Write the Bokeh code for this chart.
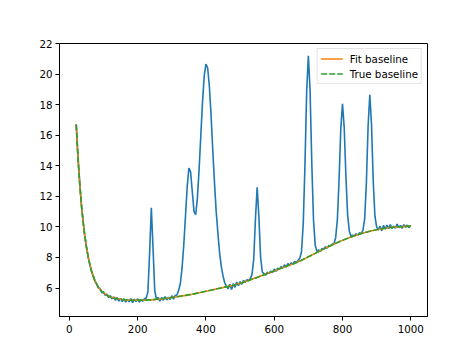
import numpy as np
from bokeh.plotting import figure
from bokeh.models import Range1d, FixedTicker, Legend, LegendItem
from bokeh.embed import file_html
from bokeh.resources import INLINE

# ---- data ----
signal_start = 20
signal_step = 5
signal = [
    16.72, 14.60, 12.95, 11.48, 10.40, 9.41, 8.70, 8.02, 7.55, 7.07,
    6.80, 6.42, 6.28, 6.00, 5.95, 5.70, 5.75, 5.52, 5.60, 5.38,
    5.50, 5.30, 5.42, 5.20, 5.38, 5.15, 5.33, 5.12, 5.30, 5.08,
    5.28, 5.10, 5.31, 5.05, 5.27, 5.12, 5.30, 5.08, 5.25, 5.14,
    5.30, 5.35, 5.75, 8.30, 11.25, 8.60, 5.85, 5.25, 5.40, 5.15,
    5.38, 5.20, 5.45, 5.22, 5.40, 5.25, 5.50, 5.28, 5.52, 5.55,
    5.85, 6.30, 7.30, 8.80, 10.70, 12.60, 13.85, 13.60, 12.30, 11.00,
    10.80, 11.90, 13.80, 16.00, 18.20, 19.90, 20.65, 20.40, 19.20, 17.30,
    15.00, 12.90, 11.00, 9.60, 8.30, 7.40, 6.80, 6.35, 6.10, 5.95,
    6.25, 5.90, 6.30, 6.05, 6.40, 6.15, 6.42, 6.25, 6.50, 6.38,
    6.55, 6.48, 6.62, 6.90, 7.90, 10.50, 12.60, 10.70, 8.05, 7.05,
    6.95, 6.85, 7.05, 6.95, 7.12, 7.00, 7.25, 7.10, 7.30, 7.22,
    7.40, 7.30, 7.52, 7.38, 7.60, 7.50, 7.65, 7.58, 7.75, 7.66,
    7.82, 7.95, 8.40, 10.20, 14.00, 18.85, 21.20, 18.95, 14.20, 10.50,
    8.80, 8.40, 8.50, 8.38, 8.58, 8.55, 8.70, 8.62, 8.78, 8.75,
    8.88, 8.90, 9.30, 10.50, 13.10, 16.40, 18.05, 16.50, 13.30, 10.80,
    9.70, 9.40, 9.45, 9.40, 9.55, 9.48, 9.62, 9.55, 9.80, 10.55,
    12.90, 16.60, 18.65, 16.70, 13.00, 10.70, 10.00, 9.80, 10.05, 9.75,
    10.10, 9.85, 10.12, 9.88, 10.15, 9.90, 10.05, 9.92, 10.18, 9.95,
    10.10, 9.90, 10.15, 9.98, 10.12, 9.96, 10.10,
]

baseline_x = [20, 25, 30, 35, 40, 45, 50, 55, 60, 65, 70, 75, 80, 85, 90, 95, 100,
              110, 120, 130, 140, 150, 160,
              180, 200, 220, 240, 260, 280, 300, 320, 340, 360, 380, 400, 420, 440,
              460, 480, 500, 520, 540, 560, 580, 600, 620, 640, 660, 680, 700, 720,
              740, 760, 780, 800, 820, 840, 860, 880, 900, 920, 940, 960, 980, 1000]
true_baseline = [16.70, 14.62, 12.91, 11.51, 10.37, 9.43, 8.66, 8.04, 7.52, 7.10,
                 6.75, 6.47, 6.24, 6.05, 5.90, 5.78, 5.68,
                 5.53, 5.42, 5.35, 5.30, 5.26, 5.23,
                 5.20, 5.20, 5.21, 5.23, 5.28, 5.33, 5.38, 5.45, 5.52, 5.60, 5.69, 5.79,
                 5.89, 5.99, 6.08, 6.17, 6.30, 6.45, 6.61, 6.78, 6.96, 7.12,
                 7.29, 7.46, 7.63, 7.82, 8.05, 8.27, 8.50, 8.72, 8.93, 9.12,
                 9.30, 9.46, 9.60, 9.72, 9.82, 9.90, 9.96, 10.00, 10.03, 10.05]
fit_baseline = [16.68, 14.60, 12.90, 11.50, 10.37, 9.43, 8.67, 8.05, 7.53, 7.11,
                6.76, 6.48, 6.25, 6.06, 5.91, 5.79, 5.69,
                5.54, 5.43, 5.36, 5.31, 5.27, 5.24,
                5.21, 5.20, 5.21, 5.23, 5.27, 5.32, 5.38, 5.45, 5.52, 5.60, 5.69, 5.79,
                5.89, 5.99, 6.08, 6.18, 6.31, 6.46, 6.62, 6.79, 6.96, 7.12,
                7.29, 7.46, 7.63, 7.82, 8.04, 8.27, 8.50, 8.72, 8.93, 9.12,
                9.30, 9.46, 9.60, 9.72, 9.82, 9.90, 9.96, 10.00, 10.03, 10.05]

x_ticks = [0, 200, 400, 600, 800, 1000]
y_ticks = [6, 8, 10, 12, 14, 16, 18, 20, 22]
legend_labels = ["Fit baseline", "True baseline"]

signal_x = [signal_start + signal_step * i for i in range(len(signal))]

# ---- figure ----
p = figure(width=474, height=355, output_backend="svg", toolbar_location=None,
           x_range=Range1d(-29, 1049), y_range=Range1d(4.14, 22.0))
p.min_border_left = 59
p.min_border_right = 47
p.min_border_top = 43
p.min_border_bottom = 39
p.background_fill_color = "white"
p.border_fill_color = "white"
p.outline_line_color = "black"
p.outline_line_width = 1
p.xgrid.visible = False
p.ygrid.visible = False

for ax in (p.xaxis, p.yaxis):
    ax.axis_line_color = "black"
    ax.axis_line_width = 1
    ax.major_tick_line_color = "black"
    ax.major_tick_in = 0
    ax.major_tick_out = 4
    ax.minor_tick_line_color = None
    ax.major_label_text_font = "DejaVu Sans"
    ax.major_label_text_font_size = "10.3px"
    ax.major_label_text_color = "black"
p.xaxis.ticker = FixedTicker(ticks=x_ticks)
p.yaxis.ticker = FixedTicker(ticks=y_ticks)
p.xaxis.major_label_standoff = 4
p.yaxis.major_label_standoff = 3

p.line(signal_x, signal, line_color="#1f77b4", line_width=1.6)
r_fit = p.line(baseline_x, fit_baseline, line_color="#ff7f0e", line_width=1.6)
r_true = p.line(baseline_x, true_baseline, line_color="#2ca02c", line_width=1.6,
                line_dash="6 2")

legend = Legend(items=[LegendItem(label=legend_labels[0], renderers=[r_fit]),
                       LegendItem(label=legend_labels[1], renderers=[r_true])],
                location="top_right")
legend.margin = 5
legend.padding = 3
legend.spacing = 2
legend.glyph_width = 22
legend.glyph_height = 13
legend.label_height = 13
legend.label_standoff = 7
legend.label_text_font = "DejaVu Sans"
legend.label_text_font_size = "10.3px"
legend.label_text_color = "black"
legend.border_line_color = "#cccccc"
legend.border_line_width = 1
legend.background_fill_color = "white"
legend.background_fill_alpha = 0.8
p.add_layout(legend, "center")

open("out.html", "w").write(file_html(p, INLINE))
